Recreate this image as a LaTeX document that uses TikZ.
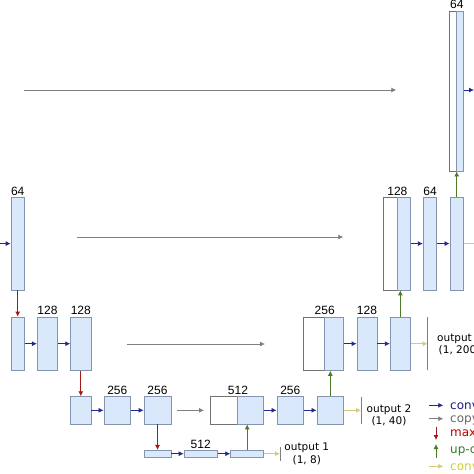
\documentclass[tikz,border=0pt]{standalone}
\usepackage{fontspec}
\setmainfont{Liberation Sans}
\newfontfamily\dejavu{DejaVu Sans}
\usetikzlibrary{arrows.meta}

\definecolor{boxfill}{HTML}{DAE8FC}
\definecolor{boxline}{HTML}{8494AE}
\definecolor{convcol}{HTML}{1F2A8C}
\definecolor{copycol}{HTML}{7F7F7F}
\definecolor{poolcol}{HTML}{A31818}
\definecolor{upcol}{HTML}{4E7A27}
\definecolor{outcol}{HTML}{D8CA7C}
\definecolor{legconv}{HTML}{1A1A80}
\definecolor{legcopy}{HTML}{666666}
\definecolor{legpool}{HTML}{C00000}
\definecolor{legup}{HTML}{2E7D32}
\definecolor{legout}{HTML}{CFCF30}

\tikzset{
  fmap/.style={draw=boxline, fill=boxfill, line width=0.8pt, inner sep=0pt},
  cropped/.style={draw=copycol!110, fill=white, line width=0.8pt, inner sep=0pt},
  chan/.style={above, inner sep=1.5pt, font=\fontsize{12}{13}\selectfont},
  convarr/.style={draw=convcol, line width=0.8pt, -{Latex[length=5pt,width=5pt]}},
  copyarr/.style={draw=copycol, line width=0.8pt, -{Latex[length=5pt,width=5pt]}},
  poolarr/.style={draw=poolcol, line width=0.8pt, -{Latex[length=5pt,width=5pt]}},
  uparr/.style={draw=upcol, line width=0.8pt, -{Latex[length=5pt,width=5pt]}},
  outarr/.style={draw=outcol, line width=0.8pt, -{Latex[length=5pt,width=5pt]}},
  outbar/.style={draw=copycol, line width=0.8pt},
  outtext/.style={align=center, inner sep=0pt, font=\dejavu\fontsize{10.5}{12.3}\selectfont},
  legtext/.style={anchor=west, inner sep=0pt, font=\dejavu\fontsize{12}{13}\selectfont},
}

\begin{document}
\begin{tikzpicture}[x=1pt, y=-1pt]

  \clip (0,0) rectangle (474,474);
  \useasboundingbox (0,0) rectangle (474,474);

  % ========== Encoder ==========
  \node[fmap, minimum width=13.3pt, minimum height=92.7pt] (e2a) at (17.7,243.6) {};
  \node[chan] at (e2a.north) {64};

  \node[fmap, minimum width=13.3pt, minimum height=53.3pt] (e3a) at (17.7,343.7) {};
  \node[fmap, minimum width=20.3pt, minimum height=53.3pt] (e3b) at (47.5,343.7) {};
  \node[fmap, minimum width=20.3pt, minimum height=53.3pt] (e3c) at (80.8,343.7) {};
  \node[chan] at (e3b.north) {128};
  \node[chan] at (e3c.north) {128};

  \node[fmap, minimum width=20.3pt, minimum height=27.3pt] (e4a) at (80.8,410.3) {};
  \node[fmap, minimum width=26.7pt, minimum height=27.3pt] (e4b) at (117.3,410.3) {};
  \node[fmap, minimum width=27pt, minimum height=27.3pt] (e4c) at (157.5,410.3) {};
  \node[chan] at (e4b.north) {256};
  \node[chan] at (e4c.north) {256};

  % ========== Bottom ==========
  \node[fmap, minimum width=27pt, minimum height=6.7pt] (b5a) at (157.5,453.7) {};
  \node[fmap, minimum width=33.3pt, minimum height=6.7pt] (b5b) at (200.7,453.7) {};
  \node[fmap, minimum width=33pt, minimum height=6.7pt] (b5c) at (247.2,453.7) {};
  \node[chan] at (b5b.north) {512};

  % ========== Decoder ==========
  \node[cropped, minimum width=27.6pt, minimum height=27.3pt] (d4w) at (223.8,410.3) {};
  \node[fmap, minimum width=26.3pt, minimum height=27.3pt] (d4a) at (250.7,410.3) {};
  \node[fmap, minimum width=26.7pt, minimum height=27.3pt] (d4b) at (290.3,410.3) {};
  \node[fmap, minimum width=26.7pt, minimum height=27.3pt] (d4c) at (330.3,410.3) {};
  \node[chan] at (d4w.north east) {512};
  \node[chan] at (d4b.north) {256};

  \node[cropped, minimum width=20.6pt, minimum height=53.3pt] (d3w) at (314,343.7) {};
  \node[fmap, minimum width=19.4pt, minimum height=53.3pt] (d3a) at (334,343.7) {};
  \node[fmap, minimum width=20pt, minimum height=53.3pt] (d3b) at (367,343.7) {};
  \node[fmap, minimum width=20pt, minimum height=53.3pt] (d3c) at (400.3,343.7) {};
  \node[chan] at (d3w.north east) {256};
  \node[chan] at (d3b.north) {128};

  \node[cropped, minimum width=13.5pt, minimum height=92.7pt] (d2w) at (390.2,243.6) {};
  \node[fmap, minimum width=13.2pt, minimum height=92.7pt] (d2a) at (403.6,243.6) {};
  \node[fmap, minimum width=13.4pt, minimum height=92.7pt] (d2b) at (430,243.6) {};
  \node[fmap, minimum width=13.5pt, minimum height=92.7pt] (d2c) at (456.7,243.6) {};
  \node[chan] at (d2w.north east) {128};
  \node[chan] at (d2b.north) {64};

  \node[cropped, minimum width=7pt, minimum height=160pt] (d1w) at (453,91) {};
  \node[fmap, minimum width=7pt, minimum height=160pt] (d1a) at (460,91) {};
  \node[chan] at (d1w.north east) {64};

  % ========== conv arrows ==========
  \coordinate (in2) at (0,243.6);
  \coordinate (out1) at (474,90);
  \draw[convarr] (in2) -- (e2a.west);
  \draw[convarr] (e3a) -- (e3b);
  \draw[convarr] (e3b) -- (e3c);
  \draw[convarr] (e4a) -- (e4b);
  \draw[convarr] (e4b) -- (e4c);
  \draw[convarr] (b5a) -- (b5b);
  \draw[convarr] (b5b) -- (b5c);
  \draw[convarr] (d4a) -- (d4b);
  \draw[convarr] (d4b) -- (d4c);
  \draw[convarr] (d3a) -- (d3b);
  \draw[convarr] (d3b) -- (d3c);
  \draw[convarr] (d2a) -- (d2b);
  \draw[convarr] (d2b) -- (d2c);
  \draw[convarr] (d1a.east |- out1) -- (out1);

  % ========== max pool ==========
  \draw[poolarr] (e2a.south) -- (e3a.north);
  \draw[poolarr] (e3c.south) -- (e4a.north);
  \draw[poolarr] (e4c.south) -- (b5a.north);

  % ========== up-conv ==========
  \draw[uparr] (b5c.north) -- (b5c.north |- d4a.south);
  \draw[uparr] (d4c.north) -- (d4c.north |- d3a.south);
  \draw[uparr] (d3c.north) -- (d3c.north |- d2a.south);
  \draw[uparr] (d2c.north) -- (d2c.north |- d1a.south);

  % ========== copy and crop ==========
  \coordinate (c1s) at (24.3,90);   \coordinate (c1e) at (396.3,90);
  \coordinate (c2s) at (77.3,237);  \coordinate (c2e) at (343.3,237);
  \coordinate (c3s) at (127.3,344); \coordinate (c3e) at (265,344);
  \coordinate (c4s) at (177.3,410.3); \coordinate (c4e) at (204,410.3);
  \draw[copyarr] (c1s) -- (c1e);
  \draw[copyarr] (c2s) -- (c2e);
  \draw[copyarr] (c3s) -- (c3e);
  \draw[copyarr] (c4s) -- (c4e);

  % ========== outputs ==========
  \coordinate (bar1t) at (280,447); \coordinate (bar1b) at (280,460.5);
  \coordinate (bar2t) at (361,396.7); \coordinate (bar2b) at (361,424);
  \coordinate (bar3t) at (427.7,317); \coordinate (bar3b) at (427.7,370.3);
  \coordinate (out2) at (474,243.6);
  \draw[outbar] (bar1t) -- (bar1b);
  \draw[outbar] (bar2t) -- (bar2b);
  \draw[outbar] (bar3t) -- (bar3b);
  \draw[outarr] (b5c.east) -- (b5c.east -| bar1t);
  \draw[outarr] (d4c.east) -- (d4c.east -| bar2t);
  \draw[outarr] (d3c.east) -- (d3c.east -| bar3t);
  \draw[draw=outcol, line width=0.8pt] (d2c.east) -- (out2);
  \node[outtext] (o1) at (306.8,454) {output 1\\(1, 8)};
  \node[outtext] (o2) at (389,415) {output 2\\(1, 40)};
  \node[outtext, anchor=west] (o3) at (437,344.5) {output 3\\(1, 200)};

  % ========== legend ==========
  \node[legtext, text=legconv] (lconv) at (450,405.3) {conv 3x3, ReLU};
  \node[legtext, text=legcopy] (lcopy) at (450,418.7) {copy and crop};
  \node[legtext, text=legpool] (lpool) at (450,433) {max pool 2x2};
  \node[legtext, text=legup] (lup) at (450,450) {up-conv 2x2};
  \node[legtext, text=legout] (lout) at (450,466.3) {conv 1x1};
  \draw[convarr] (429.3,405.3) -- (lconv.west -| 443.3,0);
  \draw[copyarr] (429.3,418.7) -- (lcopy.west -| 443.3,0);
  \draw[poolarr] (436,426.5) -- (436,440);
  \draw[uparr] (436,457.5) -- (436,444);
  \draw[outarr] (429.3,466.3) -- (lout.west -| 443.3,0);

\end{tikzpicture}
\end{document}
